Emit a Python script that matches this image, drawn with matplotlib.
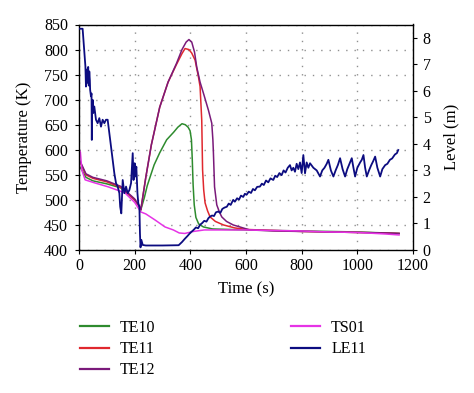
import matplotlib
matplotlib.use("Agg")
import matplotlib.pyplot as plt

plt.rcParams['font.family'] = ['Liberation Serif', 'DejaVu Serif']

# ---------------- data ----------------
te10_t = [0, 10, 25, 50, 100, 150, 200, 215, 222, 235, 245, 258, 270, 290, 315, 340, 355, 370, 382, 392, 399, 404, 407, 410, 414, 420, 430, 447, 480, 600, 700, 800, 900, 1000, 1100, 1150]
te10_T = [568, 560, 545, 538, 532, 524, 500, 488, 480, 505, 528, 550, 570, 594, 620, 635, 645, 652, 650, 645, 638, 620, 580, 530, 490, 465, 452, 446, 442, 440, 439, 438, 437, 436, 434, 433]

te11_t = [0, 10, 25, 50, 100, 150, 200, 215, 222, 240, 260, 290, 320, 350, 370, 381, 395, 405, 417, 429, 435, 441, 444, 448, 453, 462, 471, 490, 519, 560, 602, 700, 800, 900, 1000, 1100, 1150]
te11_T = [580, 568, 550, 543, 536, 525, 500, 488, 480, 545, 610, 685, 735, 770, 792, 802, 800, 793, 779, 746, 726, 659, 560, 520, 494, 478, 466, 457, 450, 444, 441, 439, 437, 436, 435, 434, 433]

te12_t = [0, 10, 25, 50, 100, 150, 200, 215, 222, 240, 260, 290, 320, 350, 370, 385, 395, 405, 415, 423, 435, 447, 465, 477, 481, 483, 487, 495, 505, 513, 530, 554, 614, 700, 800, 900, 1000, 1100, 1150]
te12_T = [582, 570, 552, 545, 538, 527, 502, 489, 480, 545, 610, 685, 735, 772, 800, 815, 820, 815, 795, 765, 735, 713, 679, 653, 620, 593, 526, 490, 475, 466, 457, 450, 440, 438, 437, 436, 435, 434, 433]

ts01_t = [0, 5, 10, 22, 50, 105, 165, 200, 213, 222, 240, 273, 291, 309, 339, 360, 380, 411, 450, 500, 600, 700, 800, 900, 1000, 1100, 1150]
ts01_T = [601, 595, 560, 540, 535, 526, 514, 495, 484, 476, 472, 460, 453, 446, 440, 434, 433, 437, 440, 440, 440, 439, 438, 436, 435, 432, 430]

le11_t = [0, 13, 15, 19, 23, 25, 27, 29, 31, 33, 35, 37, 39, 40, 43, 45, 46, 47, 49, 51, 55, 61, 67, 73, 79, 85, 91, 97, 103, 109, 115, 121, 127, 133, 139, 145, 148, 152, 157, 163, 169, 175, 181, 187, 193, 196, 200, 202, 206, 210, 213, 217, 219, 221, 224, 229, 240, 300, 358,
          370, 380, 390, 400, 411, 420, 428, 435, 443, 450, 458, 465, 471, 478, 485, 492, 500, 508, 515, 523, 531, 538, 545, 554, 560, 568, 575, 582, 590, 596, 602, 610, 618, 625, 632, 640, 650, 657, 664, 672, 680, 688, 698, 705, 712, 720, 728, 735, 742, 750, 758, 764, 770, 776, 782, 788, 794, 800,
          806, 812, 818, 824, 830, 842, 854, 866, 874, 882, 890, 896, 905, 914, 922, 930, 938, 947, 956, 964, 972, 980, 986, 992, 1000, 1010, 1016, 1022, 1028, 1034, 1042, 1050, 1057, 1064, 1072, 1082, 1090, 1100, 1108, 1117, 1125, 1135, 1142, 1147]
le11_L = [8.34, 8.34, 8.05, 7.42, 6.92, 6.16, 6.8, 6.3, 6.54, 6.9, 6.2, 6.73, 6.4, 6.04, 5.79, 5.9, 4.15, 5.3, 5.66, 5.16, 5.41, 4.91, 4.78, 4.97, 4.65, 4.91, 4.78, 4.91, 4.91, 4.40, 3.90, 3.40, 2.89, 2.52, 2.39, 2.14, 1.63, 1.38, 2.64, 2.14, 2.39, 2.14, 2.26, 2.52, 3.65, 2.64, 3.27, 2.77, 3.14, 2.14, 1.76, 1.63, 0.63, 0.10, 0.38, 0.19, 0.17, 0.17, 0.18,
          0.30, 0.42, 0.53, 0.65, 0.75, 0.85, 0.82, 0.95, 1.02, 1.10, 1.07, 1.20, 1.26, 1.30, 1.28, 1.42, 1.45, 1.40, 1.55, 1.60, 1.63, 1.75, 1.70, 1.89, 1.82, 1.95, 1.90, 2.05, 2.00, 2.12, 2.08, 2.20, 2.15, 2.30, 2.25, 2.38, 2.39, 2.50, 2.45, 2.62, 2.55, 2.70, 2.64, 2.80, 2.75, 2.90, 2.82, 3.00, 2.92, 3.10, 3.20, 3.00, 3.10, 2.95, 3.25, 3.05, 3.30, 2.90,
          3.58, 2.89, 3.30, 3.10, 3.27, 3.10, 3.00, 2.77, 3.00, 3.10, 3.25, 3.40, 3.00, 2.77, 3.00, 3.20, 3.46, 3.05, 2.77, 3.05, 3.25, 3.46, 3.10, 2.77, 3.10, 3.30, 3.40, 3.58, 3.10, 2.77, 3.00, 3.20, 3.35, 3.52, 3.10, 2.77, 3.05, 3.20, 3.25, 3.40, 3.45, 3.60, 3.65, 3.77]

x_ticks = [0, 200, 400, 600, 800, 1000, 1200]
t_ticks = [400, 450, 500, 550, 600, 650, 700, 750, 800, 850]
l_ticks = [0, 1, 2, 3, 4, 5, 6, 7, 8]

# ---------------- figure ----------------
fig = plt.figure(figsize=(4.74, 3.93), dpi=100)
ax = fig.add_axes([79/474, 1 - 250/393, 334/474, 225.5/393])
ax2 = ax.twinx()

c_te10 = '#2e8b2e'
c_te11 = '#e0282e'
c_te12 = '#7a1a7a'
c_ts01 = '#e633e6'
c_le11 = '#0c0c80'

l1, = ax.plot(te10_t, te10_T, color=c_te10, lw=1.1, label='TE10')
l2, = ax.plot(te11_t, te11_T, color=c_te11, lw=1.1, label='TE11')
l3, = ax.plot(te12_t, te12_T, color=c_te12, lw=1.1, label='TE12')
l4, = ax.plot(ts01_t, ts01_T, color=c_ts01, lw=1.1, label='TS01')
l5, = ax2.plot(le11_t, le11_L, color=c_le11, lw=1.3, label='LE11')

ax.set_xlim(0, 1200)
ax.set_ylim(400, 850)
ax2.set_ylim(0, 8.5)
ax.set_xticks(x_ticks)
ax.set_yticks(t_ticks)
ax2.set_yticks(l_ticks)

ax.grid(True, color='#909090', linestyle=(0, (1, 5)), lw=1.0)

ax.tick_params(axis='y', direction='out', length=3, pad=5, labelsize=11.5)
ax.tick_params(axis='x', direction='out', length=3, pad=3, labelsize=11.5)
ax2.tick_params(axis='y', direction='out', length=3, pad=4, labelsize=11.5)

ax.spines['right'].set_visible(False)
for k in ('top', 'bottom', 'left'):
    ax2.spines[k].set_visible(False)
for a in (ax, ax2):
    for s in a.spines.values():
        s.set_linewidth(1.0)
        s.set_color('black')

ax.set_xlabel('Time (s)', fontsize=12)
ax.set_ylabel('Temperature (K)', fontsize=12)
ax2.set_ylabel('Level (m)', fontsize=12)
ax.xaxis.set_label_coords(0.5, -0.14)
ax.yaxis.set_label_coords(-0.14, 0.5)
ax2.yaxis.set_label_coords(1.09, 0.5)

leg = fig.legend(handles=[l1, l2, l3, l4, l5], ncol=2, loc='upper left',
                 bbox_to_anchor=(80/474, 1 - 320/393), frameon=False,
                 fontsize=11.5, borderpad=0, borderaxespad=0,
                 handlelength=1.8, handletextpad=0.7, labelspacing=0.32,
                 columnspacing=8.5)
for h in leg.get_lines():
    h.set_linewidth(1.6)

fig.savefig('out.png', dpi=100)
